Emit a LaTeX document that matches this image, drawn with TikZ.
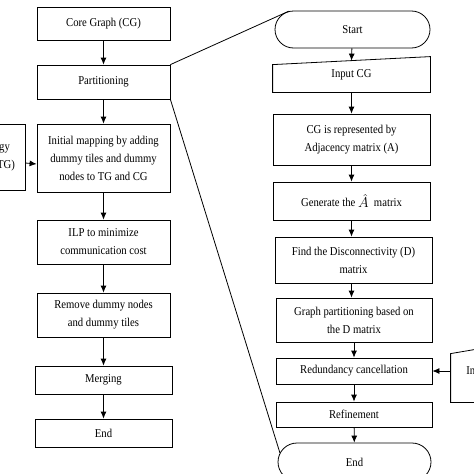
\documentclass[tikz,border=0pt]{standalone}
\usepackage{fontspec}
\setmainfont{Liberation Serif}[FakeStretch=0.89]
\usetikzlibrary{
  arrows.meta,
  calc,
  positioning,
  shapes.misc,
}
\tikzset{
  >={Latex[length=7pt,width=6pt]},
  box/.style={draw,rectangle,line width=0.8pt,align=center,inner sep=2pt,font=\fontsize{12}{18}\selectfont},
  manual/.style={rectangle,align=center,inner sep=2pt,font=\fontsize{12}{18}\selectfont},
  terminal/.style={draw,rounded rectangle,line width=0.8pt,inner sep=2pt,font=\fontsize{12}{18}\selectfont},
}

\begin{document}
\begin{tikzpicture}[x=1pt,y=-1pt,line width=0.8pt]
        \useasboundingbox (0,0) rectangle (474,474);

        % left flow
        \node[box,minimum width=133,minimum height=33]    (cg)     at (103.5,23.5)  {Core Graph (CG)};
        \node[box,minimum width=133,minimum height=34]    (part)   at (103.5,82)    {Partitioning};
        \node[box,minimum width=133,minimum height=68]    (init)   at (103.5,158)   {Initial mapping by adding\\dummy tiles and dummy\\nodes to TG and CG};
        \node[box,minimum width=133,minimum height=44]    (ilp)    at (103.5,242)   {ILP to minimize\\communication cost};
        \node[box,minimum width=133,minimum height=44]    (remove) at (103.5,315)   {Remove dummy nodes\\and dummy tiles};
        \node[box,minimum width=137,minimum height=28]    (merge)  at (103.5,380)   {Merging};
        \node[box,minimum width=137,minimum height=28]    (endl)   at (103.5,433)   {End};
        \node[box,minimum width=71,minimum height=66]     (tg)     at (-10.5,157)   {Topology\\Graph (TG)};

        \draw[->] (cg) -- (part);
        \draw[->] (part) -- (init);
        \draw[->] (init) -- (ilp);
        \draw[->] (ilp) -- (remove);
        \draw[->] (remove) -- (merge);
        \draw[->] (merge) -- (endl);
        \draw[->] ([yshift=-6pt]tg.east) -- ([yshift=-6pt]init.west);

        % right flow
        \node[terminal,minimum width=159,minimum height=37] (start) at (352.5,29.5) {Start};
        \node[manual,minimum width=157,minimum height=35]   (input) at (351.5,74.5) {Input CG};
        \draw (input.south west) -- ([yshift=-8pt]input.north west) -- (input.north east) -- (input.south east) -- cycle;
        \node[box,minimum width=157,minimum height=51]    (adj)    at (351.5,139.5) {CG is represented by\\Adjacency matrix (A)};
        \node[box,minimum width=157,minimum height=38]    (gen)    at (351.5,201)   {Generate the \raisebox{-1pt}{\fontsize{15}{15}\selectfont$\hat{A}$}\ \ matrix};
        \node[box,minimum width=157,minimum height=46]    (find)   at (353.5,260)   {Find the Disconnectivity (D)\\matrix};
        \node[box,minimum width=156,minimum height=44]    (gp)     at (354,320)     {Graph partitioning based on\\the D matrix};
        \node[box,minimum width=156,minimum height=26]    (red)    at (354,371)     {Redundancy cancellation};
        \node[box,minimum width=156,minimum height=25]    (ref)    at (354,414.5)   {Refinement};
        \node[terminal,minimum width=157,minimum height=38] (endr) at (354.5,462)   {End};
        \node[manual,minimum width=70,minimum height=60]  (rin)    at (486,372)     {Input TG};
        \draw (rin.south west) -- ([yshift=-12pt]rin.north west) -- (rin.north east) -- (rin.south east) -- cycle;

        \draw[->] (start) -- ([yshift=-4pt]input.north);
        \draw[->] (input) -- (adj);
        \draw[->] (adj) -- (gen);
        \draw[->] (gen) -- (gen |- find.north);
        \draw[->] (find.south -| gen) -- (gen |- gp.north);
        \draw[->] (gp) -- (red);
        \draw[->] (red) -- (ref);
        \draw[->] (ref) -- (endr);
        \draw[->] (rin.west |- red.east) -- (red.east);

        % zoom lines
        \draw (part.north east) -- (start.164);
        \draw (part.south east) -- (endr.173);

\end{tikzpicture}
\end{document}
